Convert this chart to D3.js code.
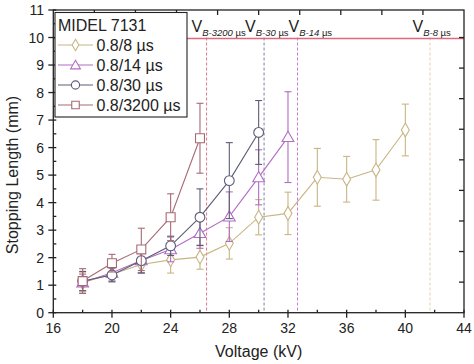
<!DOCTYPE html>
<html><head><meta charset="utf-8">
<script src="https://cdn.jsdelivr.net/npm/d3@7"></script>
<style>body{margin:0;background:#fff}svg{display:block;font-family:"Liberation Sans",Arial,sans-serif}</style>
</head><body>
<svg id="c" width="474" height="364"></svg>
<script>
const x8 = [18,20,22,24,26,28,30,32,34,36,38,40];
const v8 = [1.10,1.40,1.75,1.92,2.02,2.52,3.47,3.61,4.92,4.85,5.19,6.64];
const e8 = [0.35,0.25,0.30,0.48,0.44,0.57,0.64,0.77,1.05,0.83,1.10,0.94];
const x14 = [18,20,22,24,26,28,30,32];
const v14 = [1.10,1.45,1.90,2.30,2.89,3.49,4.92,6.38];
const e14 = [0.30,0.30,0.45,0.45,0.55,0.90,1.00,1.65];
const x30 = [18,20,22,24,26,28,30];
const v30 = [1.15,1.37,1.89,2.43,3.47,4.80,6.55];
const e30 = [0.35,0.25,0.45,0.35,1.03,1.38,1.16];
const x3200 = [18,20,22,24,26];
const v3200 = [1.15,1.80,2.30,3.47,6.34];
const e3200 = [0.45,0.32,0.77,0.85,1.27];
const seriesNames = ["0.8/8 µs","0.8/14 µs","0.8/30 µs","0.8/3200 µs"];
const breakdownV = [26.45,30.37,32.65,41.68];
const breakdownLabels = ["B-3200","B-30","B-14","B-8"];
const xTicks = [16,20,24,28,32,36,40,44];
const yTicks = [0,1,2,3,4,5,6,7,8,9,10,11];

const svg = d3.select("#c");
const L=53.3,R=464,T=10,B=312.7;
const x = d3.scaleLinear().domain([16,44]).range([L,R]);
const y = d3.scaleLinear().domain([0,11]).range([B,T]);

const col = ["#c9b583","#b26cc4","#5c5c78","#a66a74"];
const vcol = ["#d87888","#8080a0","#c878d0","#e0d0b0"];
const shapes = [d3.symbolDiamond, d3.symbolTriangle, d3.symbolCircle, d3.symbolSquare];
const sizes = [55, 60, 75, 80];

// vertical dashed breakdown lines
breakdownV.forEach((v,i)=>{
  svg.append("line").attr("x1",x(v)).attr("x2",x(v)).attr("y1",y(10)).attr("y2",y(0))
   .attr("stroke",vcol[i]).attr("stroke-width",1).attr("stroke-dasharray","3,2");
});
// horizontal line at 10
svg.append("line").attr("x1",x(16)).attr("x2",x(44)).attr("y1",Math.round(y(10))+0.5).attr("y2",Math.round(y(10))+0.5)
  .attr("stroke","#e0687e").attr("stroke-width",1.3);

const data = [[x8,v8,e8],[x14,v14,e14],[x30,v30,e30],[x3200,v3200,e3200]];
data.forEach(([xs,vs,es],k)=>{
  const pts = xs.map((xx,i)=>({x:xx,v:vs[i],e:es[i]}));
  const g = svg.append("g");
  g.append("path").datum(pts).attr("fill","none").attr("stroke",col[k]).attr("stroke-width",1.1)
   .attr("d",d3.line().x(d=>x(d.x)).y(d=>y(d.v)));
  pts.forEach(d=>{
    g.append("line").attr("x1",x(d.x)).attr("x2",x(d.x)).attr("y1",y(d.v+d.e)).attr("y2",y(d.v-d.e))
      .attr("stroke",col[k]).attr("stroke-width",1.1);
    [d.v+d.e,d.v-d.e].forEach(yy=>g.append("line").attr("x1",x(d.x)-3.5).attr("x2",x(d.x)+3.5)
      .attr("y1",y(yy)).attr("y2",y(yy)).attr("stroke",col[k]).attr("stroke-width",1.1));
  });
  g.selectAll("path.m").data(pts).enter().append("path").attr("class","m")
   .attr("transform",d=>`translate(${x(d.x)},${y(d.v)+(k==1?1:0)})`)
   .attr("d",d3.symbol().type(shapes[k]).size(sizes[k]))
   .attr("fill","#fff").attr("stroke",col[k]).attr("stroke-width",1.1);
});

const ax = svg.append("g").attr("stroke","#222").attr("stroke-width",1.3);
ax.append("rect").attr("x",L).attr("y",T).attr("width",R-L).attr("height",B-T).attr("fill","none");
d3.range(16,45,2).forEach(v=>{
  const major = (v-16)%4===0;
  ax.append("line").attr("x1",x(v)).attr("x2",x(v)).attr("y1",major?B+5:B).attr("y2",B-3);
});
d3.range(0,11.01,0.5).forEach(v=>{
  const major = Math.abs(v-Math.round(v))<1e-6;
  ax.append("line").attr("x1",major?L-5:L).attr("x2",L+3).attr("y1",y(v)).attr("y2",y(v));
});
d3.range(1,10).forEach(k=>{
  const xx=L+(R-L)*k/10;
  ax.append("line").attr("x1",xx).attr("x2",xx).attr("y1",T).attr("y2",T+5);
});
d3.range(1,10).forEach(k=>{
  const yy=y(0)+(y(10)-y(0))*k/9;
  ax.append("line").attr("x1",R).attr("x2",R-5).attr("y1",yy).attr("y2",yy);
});

svg.append("g").selectAll("text").data(xTicks).enter().append("text")
 .attr("x",d=>x(d)).attr("y",333).attr("text-anchor","middle").attr("font-size",14).attr("fill","#222").text(d=>d);
svg.append("g").selectAll("text").data(yTicks).enter().append("text")
 .attr("x",44).attr("y",d=>y(d)+5).attr("text-anchor","end").attr("font-size",14).attr("fill","#222").text(d=>d);

svg.append("text").attr("x",(L+R)/2).attr("y",357).attr("text-anchor","middle").attr("font-size",16).attr("fill","#222").text("Voltage (kV)");
svg.append("text").attr("transform","translate(18,175) rotate(-90)").attr("text-anchor","middle").attr("font-size",16).attr("fill","#222").text("Stopping Length (mm)");

const labX=[191.5,245,288.5,412.5];
breakdownLabels.forEach((lb,i)=>{
  const t = svg.append("text").attr("x",labX[i]).attr("y",32).attr("fill","#222");
  t.append("tspan").attr("font-size",16).text("V");
  t.append("tspan").attr("font-size",9.5).attr("font-style","italic").attr("dy",4).text(lb);
  t.append("tspan").attr("font-size",9.5).text(" µs");
});

const lg = svg.append("g");
lg.append("rect").attr("x",55).attr("y",12.5).attr("width",132).attr("height",104.5)
  .attr("fill","#fff").attr("stroke","#222").attr("stroke-width",1.1);
lg.append("text").attr("x",58).attr("y",31).attr("font-size",16).attr("fill","#222").text("MIDEL 7131");
seriesNames.forEach((n,k)=>{
  const yy = 45+k*20;
  lg.append("line").attr("x1",58).attr("x2",93).attr("y1",yy).attr("y2",yy).attr("stroke",col[k]).attr("stroke-width",1.1);
  lg.append("path").attr("transform",`translate(75.5,${yy+(k==1?1:0)})`).attr("d",d3.symbol().type(shapes[k]).size(sizes[k]*0.7))
    .attr("fill","#fff").attr("stroke",col[k]).attr("stroke-width",1.1);
  lg.append("text").attr("x",96.5).attr("y",yy+6).attr("font-size",16).attr("fill","#222").text(n);
});
</script>
</body></html>
